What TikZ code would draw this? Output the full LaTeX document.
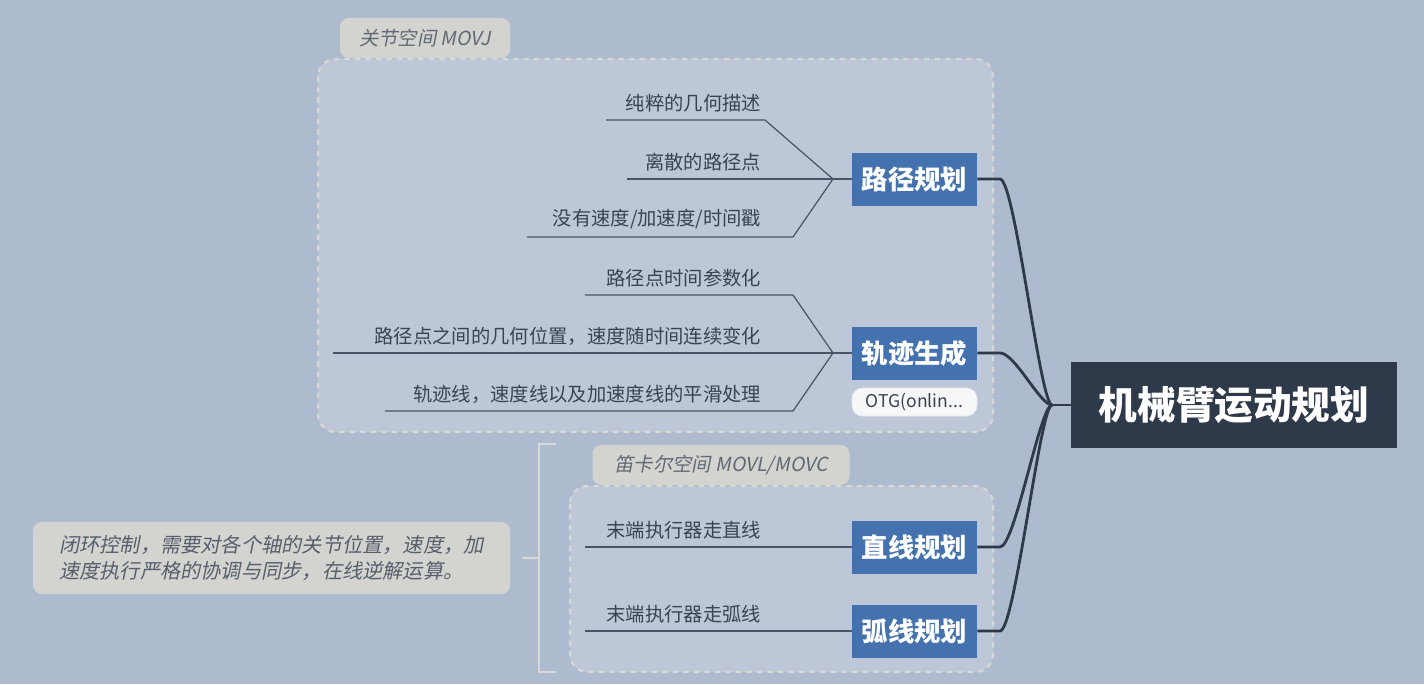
\documentclass[tikz,border=0pt]{standalone}
\usepackage{fontspec}
\setmainfont{Noto Sans CJK SC}
\newfontfamily\cjkit[FakeSlant=0.2]{Noto Sans CJK SC}
\definecolor{bg}{HTML}{AEBACE}
\definecolor{grp}{HTML}{BEC7D7}
\definecolor{dshc}{HTML}{D8D9D6}
\definecolor{tab}{HTML}{D3D4D0}
\definecolor{dark}{HTML}{2E3A4A}
\definecolor{blu}{HTML}{4472AE}
\definecolor{leaf}{HTML}{3A4352}
\definecolor{lline}{HTML}{4A5466}
\begin{document}
\begin{tikzpicture}[x=0.02cm,y=-0.02cm,
  branch/.style={fill=blu,text=white,font=\fontsize{15}{18}\selectfont\bfseries,minimum width=125*0.02cm,minimum height=53*0.02cm,inner sep=0},
  leaftxt/.style={text=leaf,font=\fontsize{11}{13}\selectfont,anchor=south east,inner sep=2pt},
  ll/.style={draw=lline,line width=0.7pt},
  conn/.style={draw=dark,line width=1.6pt},
  grpbox/.style={fill=grp,draw=dshc,dashed,line width=1.2pt,rounded corners=10pt},
  tabbox/.style={fill=tab,rounded corners=5pt,text=leaf!80,font=\cjkit\fontsize{11}{13}\selectfont,inner sep=0}]
\fill[bg] (0,0) rectangle (1424,684);
% groups
\node[tabbox,minimum width=170*0.02cm,minimum height=40*0.02cm] (t1) at (425,38) {关节空间 MOVJ};
\node[tabbox,minimum width=257*0.02cm,minimum height=40*0.02cm] (t2) at (721,465) {笛卡尔空间 MOVL/MOVC};
\draw[grpbox] (318,59) rectangle (993,432);
\draw[grpbox] (570,486) rectangle (993,672);
% bracket
\draw[dshc,line width=1.5pt] (556,444) -- (539,444) -- (539,672) -- (556,672);
\draw[dshc,line width=1.5pt] (539,558) -- (522,558);
\node[fill=tab,rounded corners=5pt,minimum width=477*0.02cm,minimum height=72*0.02cm,inner sep=0,text=leaf!85,font=\cjkit\fontsize{11.5}{15}\selectfont,align=left] (note) at (271.5,558) {闭环控制，需要对各个轴的关节位置，速度，加\\速度执行严格的协调与同步，在线逆解运算。};
% main
\node[fill=dark,text=white,font=\fontsize{22}{26}\selectfont\bfseries,minimum width=326*0.02cm,minimum height=86*0.02cm,inner sep=0] (m) at (1234,405) {机械臂运动规划};
\node[branch] (b1) at (914.5,179) {路径规划};
\node[branch] (b2) at (914.5,353) {轨迹生成};
\node[branch] (b3) at (914.5,547) {直线规划};
\node[branch] (b4) at (914.5,631) {弧线规划};
\node[fill=white!88!bg,draw=white!70!bg,rounded corners=6pt,minimum width=125*0.02cm,minimum height=28*0.02cm,inner sep=0,text=leaf,font=\fontsize{10}{12}\selectfont] (otg) at (914.5,402) {OTG(onlin...};
% connectors
\coordinate (hub) at (1052,405);
\draw[conn] (m.west) -- (hub);
\foreach \b/\y in {b1/179,b2/353,b3/547,b4/631}{
  \draw[conn] (hub) .. controls (1040,405) and (1015,\y) .. (1000,\y) -- (\b.east);
}
% leaves
\coordinate (p1) at (833,179);
\coordinate (p2) at (833,353);
\draw[ll] (b1.west) -- (p1);
\draw[ll] (b2.west) -- (p2);
\node[leaftxt] (l1) at (765,116) {纯粹的几何描述};
\draw[ll] (606,120) -- (765,120) -- (p1);
\node[leaftxt] (l2) at (765,175) {离散的路径点};
\draw[ll] (627,179) -- (p1);
\node[leaftxt] (l3) at (765,233) {没有速度/加速度/时间戳};
\draw[ll] (527,237) -- (793,237) -- (p1);
\node[leaftxt] (l4) at (765,291) {路径点时间参数化};
\draw[ll] (585,295) -- (793,295) -- (p2);
\node[leaftxt] (l5) at (765,349) {路径点之间的几何位置，速度随时间连续变化};
\draw[ll] (333,353) -- (p2);
\node[leaftxt] (l6) at (765,407) {轨迹线，速度线以及加速度线的平滑处理};
\draw[ll] (385,411) -- (793,411) -- (p2);
\node[leaftxt] (l7) at (765,543) {末端执行器走直线};
\draw[ll] (585,547) -- (b3.west);
\node[leaftxt] (l8) at (765,627) {末端执行器走弧线};
\draw[ll] (585,631) -- (b4.west);
\end{tikzpicture}
\end{document}
